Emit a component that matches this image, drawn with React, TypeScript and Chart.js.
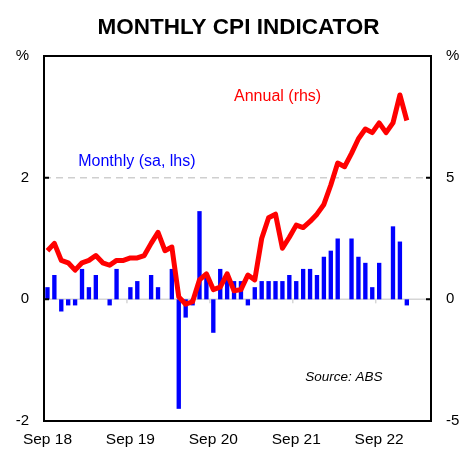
import { useEffect, useRef } from 'react';
import { Chart, registerables } from 'chart.js';

Chart.register(...registerables);

// month categories, Sep 2018 .. Apr 2023 (the last few are left empty)
const categories = [
  'Sep 18', 'Oct 18', 'Nov 18', 'Dec 18',
  'Jan 19', 'Feb 19', 'Mar 19', 'Apr 19', 'May 19', 'Jun 19', 'Jul 19', 'Aug 19', 'Sep 19', 'Oct 19', 'Nov 19', 'Dec 19',
  'Jan 20', 'Feb 20', 'Mar 20', 'Apr 20', 'May 20', 'Jun 20', 'Jul 20', 'Aug 20', 'Sep 20', 'Oct 20', 'Nov 20', 'Dec 20',
  'Jan 21', 'Feb 21', 'Mar 21', 'Apr 21', 'May 21', 'Jun 21', 'Jul 21', 'Aug 21', 'Sep 21', 'Oct 21', 'Nov 21', 'Dec 21',
  'Jan 22', 'Feb 22', 'Mar 22', 'Apr 22', 'May 22', 'Jun 22', 'Jul 22', 'Aug 22', 'Sep 22', 'Oct 22', 'Nov 22', 'Dec 22',
  'Jan 23', 'Feb 23', 'Mar 23', 'Apr 23',
];

// monthly change, seasonally adjusted (lhs, %)
const monthly = [
  0.2, 0.4, -0.2, -0.1,
  -0.1, 0.5, 0.2, 0.4, 0, -0.1, 0.5, 0, 0.2, 0.3, 0, 0.4,
  0.2, 0, 0.5, -1.8, -0.3, -0.1, 1.45, 0.4, -0.55, 0.5, 0.4, 0.3,
  0.3, -0.1, 0.2, 0.3, 0.3, 0.3, 0.3, 0.4, 0.3, 0.5, 0.5, 0.4,
  0.7, 0.8, 1.0, 0, 1.0, 0.7, 0.6, 0.2, 0.6, 0, 1.2, 0.95,
  -0.1,
];

// annual change (rhs, %)
const annual = [
  2.0, 2.3, 1.6, 1.5,
  1.2, 1.5, 1.6, 1.8, 1.5, 1.4, 1.6, 1.6, 1.7, 1.7, 1.8, 2.3,
  2.75, 2.0, 2.15, 0.1, -0.2, -0.1, 0.8, 1.05, 0.4, 0.5, 1.05, 0.35,
  0.4, 1.0, 0.8, 2.5, 3.35, 3.5, 2.1, 2.55, 3.05, 2.95, 3.2, 3.5,
  3.9, 4.7, 5.6, 5.45, 6.0, 6.6, 7.0, 6.85, 7.25, 6.85, 7.25, 8.4,
  7.35,
];

const FONT = "'Liberation Sans', Arial, sans-serif";

const decorPlugin = {
  id: 'decor',
  beforeDatasetsDraw(chart: any) {
    const { ctx, chartArea: a, scales } = chart;
    const x = scales.x;
    const y = scales.y;
    const y0 = y.getPixelForValue(0);
    const step = x.getPixelForValue(1) - x.getPixelForValue(0);
    ctx.save();
    // zero line
    ctx.strokeStyle = '#d6d6d6';
    ctx.lineWidth = 1.5;
    ctx.beginPath();
    ctx.moveTo(a.left, y0);
    ctx.lineTo(a.right, y0);
    ctx.stroke();
    // little year ticks on the zero line
    categories.forEach((c, i) => {
      if (!c.startsWith('Sep')) return;
      const px = x.getPixelForValue(i) - step / 2;
      ctx.beginPath();
      ctx.moveTo(px, y0);
      ctx.lineTo(px, y0 + 4);
      ctx.stroke();
    });
    // dashed grid at 2
    const y2 = y.getPixelForValue(2);
    ctx.setLineDash([7, 5]);
    ctx.strokeStyle = '#cfcfcf';
    ctx.beginPath();
    ctx.moveTo(a.left, y2);
    ctx.lineTo(a.right, y2);
    ctx.stroke();
    ctx.restore();
  },
  afterDatasetsDraw(chart: any) {
    const { ctx, chartArea: a, scales } = chart;
    const x = scales.x;
    const y = scales.y;
    const y1 = scales.y1;
    ctx.save();
    // frame
    ctx.strokeStyle = '#000';
    ctx.lineWidth = 2;
    ctx.strokeRect(a.left, a.top, a.right - a.left, a.bottom - a.top);
    // inner ticks
    [0, 2].forEach((v) => {
      const py = y.getPixelForValue(v);
      ctx.beginPath();
      ctx.moveTo(a.left, py);
      ctx.lineTo(a.left + 5, py);
      ctx.moveTo(a.right - 5, py);
      ctx.lineTo(a.right, py);
      ctx.stroke();
    });
    // series labels
    ctx.textBaseline = 'middle';
    ctx.textAlign = 'left';
    ctx.font = `16px ${FONT}`;
    ctx.fillStyle = '#ff0000';
    ctx.fillText('Annual (rhs)', x.getPixelForValue(27), y1.getPixelForValue(8.35));
    ctx.fillStyle = '#0000ff';
    ctx.fillText('Monthly (sa, lhs)', x.getPixelForValue(4.45), y.getPixelForValue(2.26));
    ctx.fillStyle = '#000';
    ctx.font = `italic 13.5px ${FONT}`;
    ctx.fillText('Source: ABS', x.getPixelForValue(37.3), y.getPixelForValue(-1.28));
    // title
    ctx.textAlign = 'center';
    ctx.font = `bold 22.5px ${FONT}`;
    ctx.fillText('MONTHLY CPI INDICATOR', chart.width / 2 + 3.5, 28);
    ctx.restore();
  },
};

export default function App() {
  const canvasRef = useRef<HTMLCanvasElement>(null);

  useEffect(() => {
    if (!canvasRef.current) return;
    const chart = new Chart(canvasRef.current, {
      type: 'bar',
      data: {
        labels: categories,
        datasets: [
          {
            type: 'line',
            label: 'Annual (rhs)',
            data: annual,
            yAxisID: 'y1',
            borderColor: '#ff0000',
            borderWidth: 5,
            pointRadius: 0,
            tension: 0,
            borderJoinStyle: 'round',
            order: 0,
          },
          {
            type: 'bar',
            label: 'Monthly (sa, lhs)',
            data: monthly,
            yAxisID: 'y',
            backgroundColor: '#0000ff',
            borderWidth: 0,
            categoryPercentage: 1,
            barPercentage: 0.63,
            order: 1,
          },
        ] as any,
      },
      options: {
        animation: false,
        responsive: true,
        maintainAspectRatio: false,
        layout: { padding: { top: 56 } },
        plugins: {
          legend: { display: false },
          tooltip: { enabled: false },
        },
        scales: {
          x: {
            offset: true,
            grid: { display: false },
            border: { display: false },
            ticks: {
              autoSkip: false,
              maxRotation: 0,
              padding: 1,
              color: '#000',
              font: { family: FONT, size: 15.5 },
              callback: (_v: any, i: number) => (categories[i].startsWith('Sep') ? categories[i] : ''),
            },
            afterFit: (s: any) => {
              s.height = 45;
            },
          },
          y: {
            position: 'left',
            min: -2,
            max: 4,
            grid: { display: false },
            border: { display: false },
            ticks: {
              stepSize: 2,
              padding: 7,
              color: '#000',
              font: { family: FONT, size: 15 },
              callback: (v: any) => (v === 4 ? '%' : String(v)),
            },
            afterFit: (s: any) => {
              s.width = 44;
            },
          },
          y1: {
            position: 'right',
            min: -5,
            max: 10,
            grid: { display: false },
            border: { display: false },
            ticks: {
              stepSize: 5,
              padding: 7,
              color: '#000',
              font: { family: FONT, size: 15 },
              callback: (v: any) => (v === 10 ? '%' : String(v)),
            },
            afterFit: (s: any) => {
              s.width = 39;
            },
          },
        },
      } as any,
      plugins: [decorPlugin],
    });
    return () => chart.destroy();
  }, []);

  return (
    <div style={{ position: 'fixed', left: 0, top: 0, width: 470, height: 466, background: '#fff' }}>
      <canvas ref={canvasRef} />
    </div>
  );
}
